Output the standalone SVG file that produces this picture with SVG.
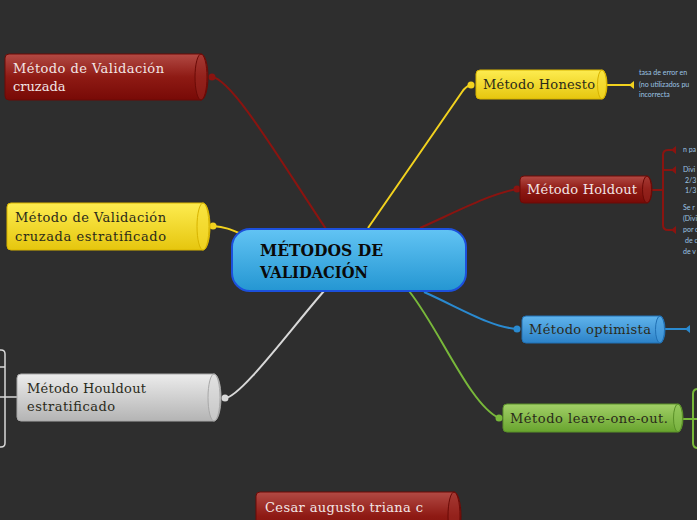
<svg xmlns="http://www.w3.org/2000/svg" width="697" height="520" viewBox="0 0 697 520">
<defs>
<linearGradient id="gRed" x1="0" y1="0" x2="0" y2="1"><stop offset="0" stop-color="#b24a44"/><stop offset="0.5" stop-color="#8e1a14"/><stop offset="1" stop-color="#780a06"/></linearGradient>
<linearGradient id="gYel" x1="0" y1="0" x2="0" y2="1"><stop offset="0" stop-color="#fdec50"/><stop offset="1" stop-color="#e6c60e"/></linearGradient>
<linearGradient id="gGry" x1="0" y1="0" x2="0" y2="1"><stop offset="0" stop-color="#ececec"/><stop offset="1" stop-color="#b4b4b4"/></linearGradient>
<linearGradient id="gBlu" x1="0" y1="0" x2="0" y2="1"><stop offset="0" stop-color="#60b4ec"/><stop offset="1" stop-color="#2c82c8"/></linearGradient>
<linearGradient id="gGrn" x1="0" y1="0" x2="0" y2="1"><stop offset="0" stop-color="#a2d068"/><stop offset="1" stop-color="#68a42e"/></linearGradient>
<linearGradient id="gCen" x1="0" y1="0" x2="0" y2="1"><stop offset="0" stop-color="#62c4f4"/><stop offset="1" stop-color="#2496d2"/></linearGradient>
</defs>
<style>
.lbl{font-family:"DejaVu Serif","Liberation Serif",serif;font-size:13px}
.dk{fill:#2a2a1a}
.lt{fill:#f2e6e6}
.note{font-family:Lato,"Open Sans",sans-serif;font-size:7px;fill:#9cc4e4}
.cn{fill:none;stroke-width:2}
</style>
<rect width="697" height="520" fill="#2e2e2e"/>
<g id="connectors">
<path class="cn" stroke="#8a1410" d="M212,77 C232,79 280,160 326,229"/>
<path class="cn" stroke="#f2d21e" d="M213,226 C226,227 232,230 241,234"/>
<path class="cn" stroke="#d8d8d8" d="M225,398 C240,398 290,330 324,291"/>
<path class="cn" stroke="#f2d21e" d="M368,228 L462,92 Q466,86 471,85"/>
<path class="cn" stroke="#8a1410" d="M420,228 C460,210 490,194 517,189"/>
<path class="cn" stroke="#2a8ad0" d="M424,292 C460,308 490,327 517,329"/>
<path class="cn" stroke="#78b83a" d="M409,291 C440,330 470,405 499,418"/>
<circle cx="212" cy="77" r="3.5" fill="#8a1410"/>
<circle cx="213" cy="226" r="3.5" fill="#f2d21e"/>
<circle cx="225" cy="398" r="3.5" fill="#d8d8d8"/>
<circle cx="471" cy="85" r="3.5" fill="#f2d21e"/>
<circle cx="517" cy="189" r="3.5" fill="#8a1410"/>
<circle cx="517" cy="329" r="3.5" fill="#2a8ad0"/>
<circle cx="499" cy="418" r="3.5" fill="#78b83a"/>
<!-- Honesto right -->
<path class="cn" stroke="#f2d21e" d="M607,85 H632"/>
<polygon points="629,85 634,81 634,89" fill="#f2d21e"/>
<!-- Holdout bracket -->
<path fill="none" stroke="#8a1410" stroke-width="2" d="M652,190 H663 M676,150 H668 Q663,150 663,155 V225 Q663,230 668,230 H676 M663,170 H676"/>
<polygon points="671,150 676,146 676,154" fill="#8a1410"/>
<polygon points="671,170 676,166 676,174" fill="#8a1410"/>
<polygon points="671,230 676,226 676,234" fill="#8a1410"/>
<!-- optimista right -->
<path class="cn" stroke="#2a8ad0" d="M665,329 H688"/>
<polygon points="685,329 690,325 690,333" fill="#2a8ad0"/>
<!-- leave-one-out bracket -->
<path fill="none" stroke="#78b83a" stroke-width="2" d="M683,419 H697 M697,389 H698 Q693,389 693,394 V443 Q693,448 698,448"/>
<!-- houldout left bracket -->
<path fill="none" stroke="#d8d8d8" stroke-width="1.5" d="M0,350 H1 Q5,350 5,354 V443 Q5,447 1,447 H0 M0,367 H5 M0,397 H17"/>
</g>
<g id="central">
<rect x="232" y="229" width="234" height="62" rx="18" fill="url(#gCen)" stroke="#1c50dc" stroke-width="2"/>
<text x="260" y="256" font-family="'DejaVu Serif','Liberation Serif',serif" font-weight="bold" font-size="16" fill="#0a0a0a" textLength="123" lengthAdjust="spacingAndGlyphs">MÉTODOS DE</text>
<text x="260" y="278" font-family="'DejaVu Serif','Liberation Serif',serif" font-weight="bold" font-size="16" fill="#0a0a0a" textLength="108" lengthAdjust="spacingAndGlyphs">VALIDACIÓN</text>
</g>
<g id="n-cruzada">
<path d="M9,54 H201 A7,23 0 0 1 201,100 H9 Q5,100 5,96 V58 Q5,54 9,54 Z" fill="url(#gRed)" stroke="#6a0a06"/>
<ellipse cx="201" cy="77" rx="6" ry="23" fill="#9a2a24" fill-opacity="0.5" stroke="#6a0a06"/>
<text class="lbl lt" x="13" y="73" textLength="151">Método de Validación</text>
<text class="lbl lt" x="13" y="91">cruzada</text>
</g>
<g id="n-estratificado">
<path d="M11,203 H203 A7,23.5 0 0 1 203,250 H11 Q7,250 7,246 V207 Q7,203 11,203 Z" fill="url(#gYel)" stroke="#d8b400"/>
<ellipse cx="203" cy="226.5" rx="6" ry="23.5" fill="#f6dc30" fill-opacity="0.5" stroke="#d8b400"/>
<text class="lbl dk" x="15" y="222" textLength="151">Método de Validación</text>
<text class="lbl dk" x="15" y="241" textLength="151">cruzada estratificado</text>
</g>
<g id="n-houldout">
<path d="M21,374 H214 A7,23.5 0 0 1 214,421 H21 Q17,421 17,417 V378 Q17,374 21,374 Z" fill="url(#gGry)" stroke="#a8a8a8"/>
<ellipse cx="214" cy="397.5" rx="6" ry="23.5" fill="#d8d8d8" fill-opacity="0.5" stroke="#a8a8a8"/>
<text class="lbl dk" x="27" y="393" textLength="119">Método Houldout</text>
<text class="lbl dk" x="27" y="411" textLength="88">estratificado</text>
</g>
<g id="n-honesto">
<path d="M480,70 H602 A5,14.5 0 0 1 602,99 H480 Q476,99 476,95 V74 Q476,70 480,70 Z" fill="url(#gYel)" stroke="#d8b400"/>
<ellipse cx="602" cy="84.5" rx="4.5" ry="14.5" fill="#f6dc30" fill-opacity="0.5" stroke="#d8b400"/>
<text class="lbl dk" x="483" y="89" textLength="112">Método Honesto</text>
</g>
<g id="n-honesto-note">
<text class="note" x="639" y="75">tasa de error en</text>
<text class="note" x="639" y="87">(no utilizados pu</text>
<text class="note" x="639" y="97">incorrecta</text>
</g>
<g id="n-holdout">
<path d="M524,176 H647 A5,13.5 0 0 1 647,203 H524 Q520,203 520,199 V180 Q520,176 524,176 Z" fill="url(#gRed)" stroke="#6a0a06"/>
<ellipse cx="647" cy="189.5" rx="4.5" ry="13.5" fill="#9a2a24" fill-opacity="0.5" stroke="#6a0a06"/>
<text class="lbl lt" x="527" y="194" textLength="110">Método Holdout</text>
</g>
<g id="n-holdout-notes">
<text class="note" x="683" y="152">n pa</text>
<text class="note" x="683" y="172">Divi</text>
<text class="note" x="685" y="183">2/3</text>
<text class="note" x="685" y="193">1/3</text>
<text class="note" x="683" y="210">Se r</text>
<text class="note" x="683" y="221">(Divi</text>
<text class="note" x="683" y="232">por c</text>
<text class="note" x="685" y="243">de c</text>
<text class="note" x="683" y="254">de v</text>
</g>
<g id="n-optimista">
<path d="M526,316 H660 A5,13.5 0 0 1 660,343 H526 Q522,343 522,339 V320 Q522,316 526,316 Z" fill="url(#gBlu)" stroke="#2070b4"/>
<ellipse cx="660" cy="329.5" rx="4.5" ry="13.5" fill="#4aa0e0" fill-opacity="0.5" stroke="#2070b4"/>
<text class="lbl dk" x="529" y="334" textLength="122">Método optimista</text>
</g>
<g id="n-leave">
<path d="M507,404 H678 A5,14 0 0 1 678,432 H507 Q503,432 503,428 V408 Q503,404 507,404 Z" fill="url(#gGrn)" stroke="#5a9028"/>
<ellipse cx="678" cy="418" rx="4.5" ry="14" fill="#88c050" fill-opacity="0.5" stroke="#5a9028"/>
<text class="lbl dk" x="510" y="423" textLength="158">Método leave-one-out.</text>
</g>
<g id="n-autor">
<path d="M260,492 H454 A7,24 0 0 1 454,540 H260 Q256,540 256,536 V496 Q256,492 260,492 Z" fill="url(#gRed)" stroke="#6a0a06"/>
<ellipse cx="454" cy="516" rx="6" ry="24" fill="#9a2a24" fill-opacity="0.5" stroke="#6a0a06"/>
<text class="lbl lt" x="265" y="512" textLength="158">Cesar augusto triana c</text>
</g>
</svg>
